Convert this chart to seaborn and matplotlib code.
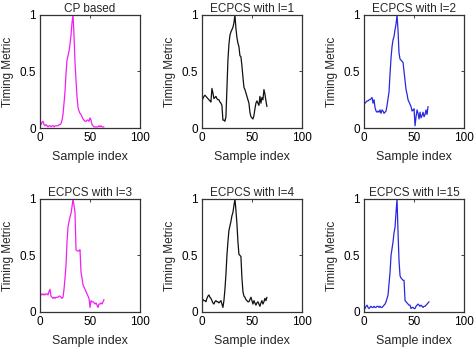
import numpy as np
import pandas as pd
import seaborn as sns
import matplotlib
matplotlib.use("Agg")
import matplotlib.pyplot as plt

sns.set_style("white")
plt.rcParams["font.family"] = ["Liberation Sans", "DejaVu Sans"]

titles = ["CP based", "ECPCS with l=1", "ECPCS with l=2",
          "ECPCS with l=3", "ECPCS with l=4", "ECPCS with l=15"]
colors = ["#f020f0", "#111111", "#2828e0", "#f020f0", "#111111", "#2828e0"]
x_ticks = [0, 50, 100]
y_ticks = [0, 0.5, 1]
y_tick_labels = ["0", "0.5", "1"]

cp_based = [0.03, 0.03, 0.05, 0.06, 0.03, 0.02, 0.03, 0.02, 0.01, 0.02,
            0.02, 0.01, 0.02, 0.02, 0.01, 0.02, 0.02, 0.02, 0.02, 0.03,
            0.03, 0.04, 0.07, 0.12, 0.22, 0.32, 0.48, 0.60, 0.64, 0.68,
            0.74, 0.82, 0.93, 1.00, 0.82, 0.58, 0.42, 0.28, 0.18, 0.15,
            0.13, 0.12, 0.10, 0.08, 0.07, 0.06, 0.06, 0.07, 0.07, 0.06,
            0.09, 0.07, 0.03, 0.02, 0.01, 0.01, 0.01, 0.01, 0.01, 0.02,
            0.01, 0.02, 0.01, 0.01, 0.01]
ecpcs_l1 = [0.24, 0.26, 0.28, 0.29, 0.28, 0.27, 0.26, 0.25, 0.24, 0.23,
            0.35, 0.31, 0.26, 0.27, 0.28, 0.26, 0.25, 0.25, 0.23, 0.22,
            0.20, 0.07, 0.07, 0.06, 0.10, 0.35, 0.60, 0.74, 0.82, 0.85,
            0.87, 0.89, 0.93, 1.00, 0.88, 0.80, 0.75, 0.72, 0.64, 0.63,
            0.55, 0.45, 0.36, 0.34, 0.31, 0.28, 0.25, 0.22, 0.14, 0.10,
            0.09, 0.08, 0.11, 0.17, 0.22, 0.24, 0.22, 0.20, 0.28, 0.22,
            0.27, 0.25, 0.34, 0.30, 0.24, 0.19]
ecpcs_l2 = [0.21, 0.22, 0.23, 0.24, 0.24, 0.25, 0.25, 0.26, 0.27, 0.22,
            0.25, 0.18, 0.15, 0.14, 0.15, 0.14, 0.16, 0.13, 0.16, 0.15,
            0.13, 0.14, 0.15, 0.20, 0.26, 0.32, 0.48, 0.62, 0.72, 0.78,
            0.81, 0.87, 0.92, 1.00, 0.86, 0.66, 0.61, 0.60, 0.59, 0.58,
            0.50, 0.42, 0.34, 0.30, 0.25, 0.23, 0.21, 0.19, 0.15, 0.16,
            0.17, 0.02, 0.10, 0.16, 0.13, 0.08, 0.14, 0.09, 0.11, 0.14,
            0.10, 0.12, 0.16, 0.12, 0.19]
ecpcs_l3 = [0.16, 0.15, 0.16, 0.15, 0.16, 0.15, 0.16, 0.16, 0.15, 0.18,
            0.20, 0.14, 0.13, 0.12, 0.13, 0.12, 0.13, 0.13, 0.13, 0.14,
            0.14, 0.13, 0.12, 0.13, 0.20, 0.30, 0.41, 0.62, 0.75, 0.80,
            0.84, 0.87, 0.93, 1.00, 0.94, 0.88, 0.55, 0.54, 0.54, 0.54,
            0.55, 0.35, 0.30, 0.24, 0.22, 0.20, 0.18, 0.16, 0.14, 0.12,
            0.04, 0.10, 0.09, 0.09, 0.08, 0.07, 0.08, 0.06, 0.04, 0.07,
            0.07, 0.08, 0.07, 0.09, 0.11]
ecpcs_l4 = [0.12, 0.11, 0.10, 0.10, 0.09, 0.12, 0.14, 0.15, 0.13, 0.12,
            0.10, 0.08, 0.07, 0.09, 0.10, 0.09, 0.09, 0.08, 0.09, 0.10,
            0.07, 0.04, 0.10, 0.20, 0.33, 0.50, 0.62, 0.72, 0.76, 0.80,
            0.85, 0.88, 0.94, 1.00, 0.90, 0.78, 0.62, 0.51, 0.50, 0.49,
            0.30, 0.18, 0.14, 0.13, 0.11, 0.10, 0.09, 0.09, 0.11, 0.13,
            0.10, 0.07, 0.10, 0.08, 0.06, 0.08, 0.09, 0.07, 0.05, 0.08,
            0.10, 0.07, 0.09, 0.12, 0.10, 0.13]
ecpcs_l15 = [0.04, 0.03, 0.05, 0.06, 0.04, 0.03, 0.04, 0.05, 0.04, 0.04,
             0.05, 0.04, 0.04, 0.05, 0.05, 0.04, 0.05, 0.04, 0.04, 0.05,
             0.06, 0.07, 0.09, 0.12, 0.15, 0.25, 0.35, 0.50, 0.56, 0.62,
             0.70, 0.75, 0.88, 1.00, 0.70, 0.45, 0.32, 0.30, 0.29, 0.28,
             0.28, 0.10, 0.09, 0.08, 0.07, 0.06, 0.06, 0.03, 0.04, 0.04,
             0.03, 0.03, 0.05, 0.06, 0.07, 0.06, 0.05, 0.06, 0.05, 0.04,
             0.05, 0.05, 0.06, 0.07, 0.08, 0.09]

series = [cp_based, ecpcs_l1, ecpcs_l2, ecpcs_l3, ecpcs_l4, ecpcs_l15]

fig = plt.figure(figsize=(4.74, 3.47), dpi=100)
col_left = [0.0844, 0.426, 0.768]
row_bottom = [0.631, 0.101]
w, h = 0.211, 0.326

for i, (vals, title, color) in enumerate(zip(series, titles, colors)):
    r, c = divmod(i, 3)
    ax = fig.add_axes([col_left[c], row_bottom[r], w, h])
    df = pd.DataFrame({"Sample index": np.arange(len(vals)), "Timing Metric": vals})
    sns.lineplot(data=df, x="Sample index", y="Timing Metric", ax=ax,
                 color=color, linewidth=0.9)
    ax.set_xlim(0, 100)
    ax.set_ylim(0, 1)
    ax.set_xticks(x_ticks)
    ax.set_yticks(y_ticks)
    ax.set_yticklabels(y_tick_labels)
    ax.set_title(title, fontsize=8.5, pad=2)
    ax.set_xlabel("Sample index", fontsize=9, labelpad=5)
    ax.set_ylabel("Timing Metric", fontsize=8.5, labelpad=4)
    ax.tick_params(direction="in", length=2, width=0.6, labelsize=8.5,
                   top=True, right=True, pad=3, colors="#222222",
                   labelcolor="black")
    for s in ax.spines.values():
        s.set_visible(True)
        s.set_color("#333333")
        s.set_linewidth(0.9)

fig.savefig("out.png", dpi=100)
